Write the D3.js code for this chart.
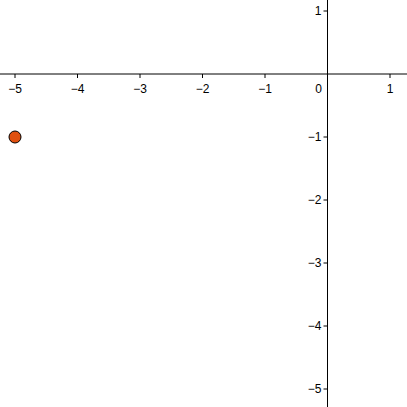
<!DOCTYPE html>
<html><head><meta charset="utf-8">
<script src="https://cdn.jsdelivr.net/npm/d3@7"></script>
<style>body{margin:0;background:#fff}text{font-family:Arial,"Liberation Sans",sans-serif;font-size:12px;fill:#000}</style>
</head><body>
<svg id="c" width="407" height="407"></svg>
<script>
const xTicks=[-5,-4,-3,-2,-1,1];
const yTicks=[1,-1,-2,-3,-4,-5];
const points=[{x:-5,y:-1}];
const W=407,H=407;
const x=d3.scaleLinear().domain([-5,1]).range([15,390]);
const y=d3.scaleLinear().domain([1,-5]).range([11,389]);
const svg=d3.select("#c");
svg.append("line").attr("x1",0).attr("x2",W).attr("y1",y(0)).attr("y2",y(0)).attr("stroke","#000");
svg.append("line").attr("x1",x(0)).attr("x2",x(0)).attr("y1",0).attr("y2",H).attr("stroke","#000");
const fmt=v=>v<0?"\u2212"+Math.abs(v):String(v);
xTicks.forEach(v=>{
 svg.append("line").attr("x1",x(v)).attr("x2",x(v)).attr("y1",y(0)).attr("y2",y(0)+4).attr("stroke","#000");
 svg.append("text").attr("x",x(v)).attr("y",y(0)+19).attr("text-anchor","middle").text(fmt(v));
});
yTicks.forEach(v=>{
 svg.append("line").attr("x1",x(0)-4).attr("x2",x(0)).attr("y1",y(v)).attr("y2",y(v)).attr("stroke","#000");
 svg.append("text").attr("x",x(0)-6).attr("y",y(v)+4).attr("text-anchor","end").text(fmt(v));
});
svg.append("text").attr("x",x(0)-9).attr("y",y(0)+19).attr("text-anchor","middle").text("0");
svg.selectAll("circle").data(points).enter().append("circle")
 .attr("cx",d=>x(d.x)).attr("cy",d=>y(d.y)).attr("r",6)
 .attr("fill","#e0500f").attr("stroke","#000").attr("stroke-width",1);
</script>
</body></html>
